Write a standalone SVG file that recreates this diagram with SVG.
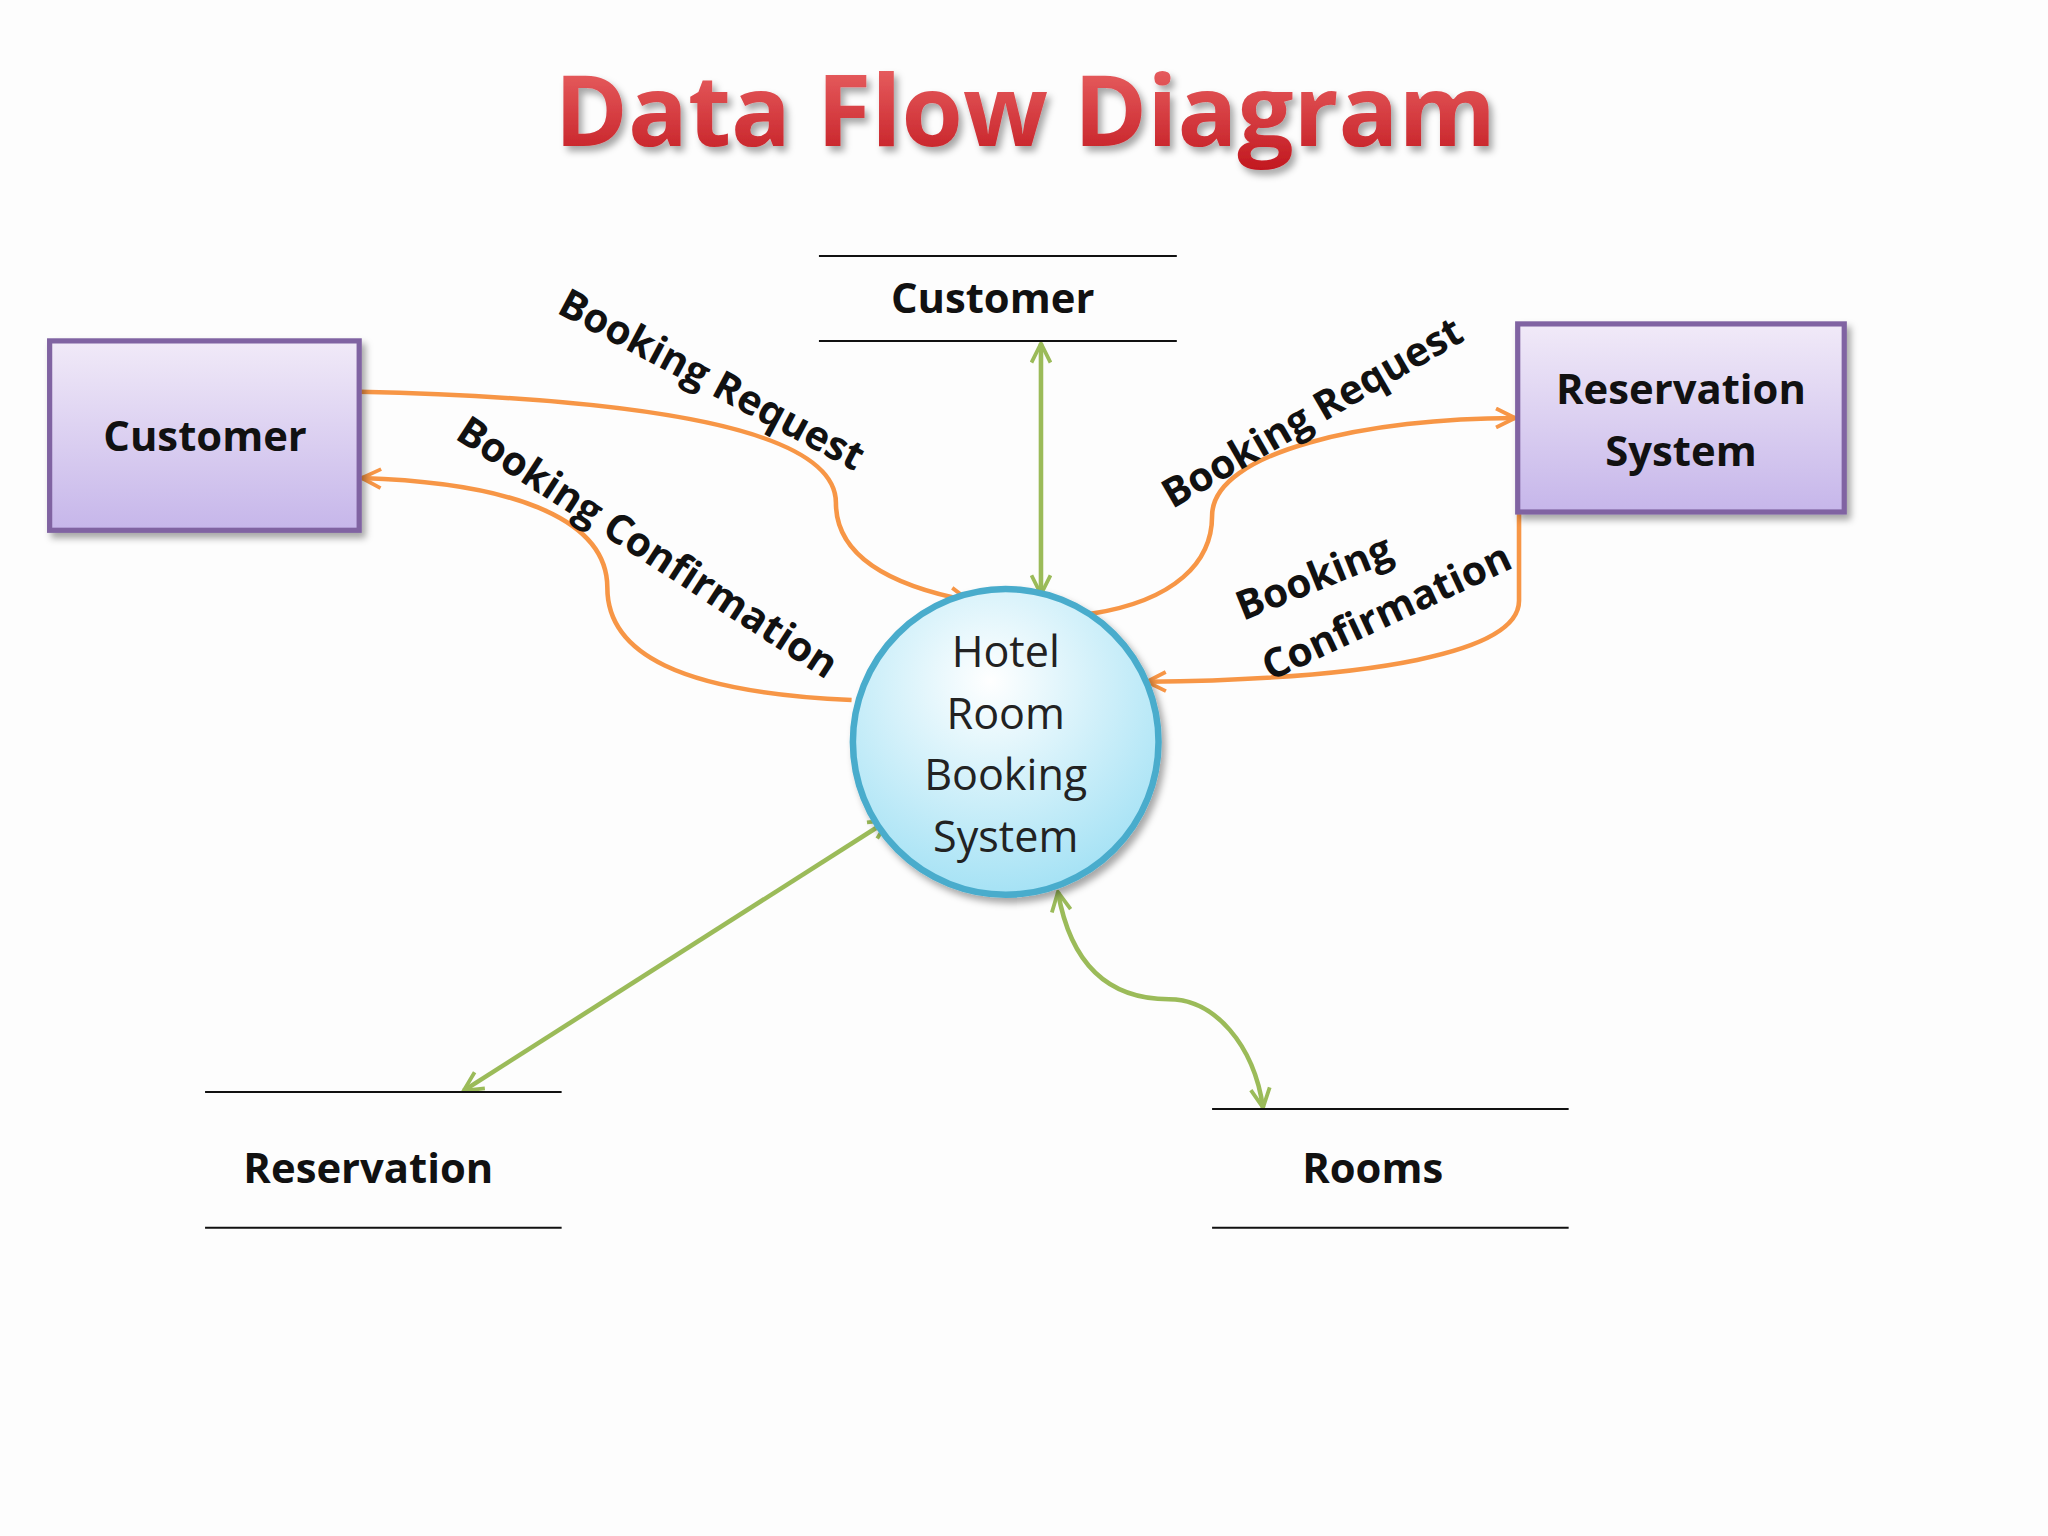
<svg xmlns="http://www.w3.org/2000/svg" width="2048" height="1536" viewBox="0 0 2048 1536">
<style>
.o{fill:none;stroke:#f79646;stroke-width:3.5}
.g{fill:none;stroke:#9bbb59;stroke-width:3.5}
.lbl{font-family:"Open Sans","Liberation Sans",sans-serif;font-weight:bold;font-size:31px;fill:#111;text-anchor:middle}
.nd{font-family:"Open Sans","Liberation Sans",sans-serif;font-weight:bold;font-size:32px;fill:#111;text-anchor:middle}
.ct{font-family:"Open Sans","Liberation Sans",sans-serif;font-size:33px;fill:#222;text-anchor:middle}
.ln{stroke:#111;stroke-width:1.5}
.box{fill:url(#bg);stroke:#8064a2;stroke-width:4;filter:url(#sh)}
</style>
<defs>
<linearGradient id="bg" x1="0" y1="0" x2="0" y2="1"><stop offset="0" stop-color="#f1eaf8"/><stop offset="1" stop-color="#c6b6ea"/></linearGradient>
<radialGradient id="cg" cx="0.45" cy="0.3" r="0.75"><stop offset="0" stop-color="#ffffff"/><stop offset="1" stop-color="#9fe0f4"/></radialGradient>
<linearGradient id="tg" x1="0" y1="0" x2="0" y2="1"><stop offset="0" stop-color="#f07070"/><stop offset="1" stop-color="#c0141c"/></linearGradient>
<filter id="sh" x="-20%" y="-20%" width="140%" height="140%"><feDropShadow dx="3" dy="4" stdDeviation="3" flood-opacity="0.35"/></filter>
<marker id="ao" viewBox="0 0 12 12" refX="11" refY="6" markerWidth="5" markerHeight="5" orient="auto-start-reverse" markerUnits="strokeWidth"><path d="M1,1 L11,6 L1,11" fill="none" stroke="#f79646" stroke-width="2"/></marker>
<marker id="ag" viewBox="0 0 12 12" refX="11" refY="6" markerWidth="5" markerHeight="5" orient="auto-start-reverse" markerUnits="strokeWidth"><path d="M1,1 L11,6 L1,11" fill="none" stroke="#9bbb59" stroke-width="2"/></marker>
</defs>
<rect width="2048" height="1536" fill="#fdfdfd"/>
<g transform="scale(1.30612)">
<text x="785" y="112" font-family="'Open Sans','Liberation Sans',sans-serif" font-weight="bold" font-size="76" fill="url(#tg)" text-anchor="middle" filter="url(#sh)">Data Flow Diagram</text>

<g id="connectors">
<path class="o" marker-end="url(#ao)" d="M275,300 C500,305 640,330 640,385 C640,430 690,450 742,460"/>
<path class="o" marker-end="url(#ao)" d="M652,536 C520,530 465,500 465,450 C465,400 400,370 277,366"/>
<path class="o" marker-end="url(#ao)" d="M835,470 C900,460 928,430 928,395 C928,345 1050,320 1160,320"/>
<path class="o" marker-end="url(#ao)" d="M1163,392 L1163,460 C1163,500 1050,520 878,522"/>
<path class="g" marker-start="url(#ag)" marker-end="url(#ag)" d="M797,263 L797,455"/>
<path class="g" marker-start="url(#ag)" marker-end="url(#ag)" d="M680,628 L355,835"/>
<path class="g" marker-start="url(#ag)" marker-end="url(#ag)" d="M810,683 C820,740 850,765 895,765 C930,765 960,800 967,848"/>
<text class="lbl" transform="translate(540,300) rotate(28)">Booking Request</text>
<text class="lbl" transform="translate(490,428) rotate(33)">Booking Confirmation</text>
<text class="lbl" transform="translate(1010,325) rotate(-30)">Booking Request</text>
<text class="lbl" transform="translate(1010,452) rotate(-22)">Booking</text>
<text class="lbl" transform="translate(1066,478) rotate(-25)">Confirmation</text>
</g>

<g id="customer"><rect class="box" x="38" y="261" width="237" height="145"/><text class="nd" x="157" y="345">Customer</text></g>
<g id="reservation-system"><rect class="box" x="1162" y="248" width="250" height="144"/><text class="nd" x="1287" y="309">Reservation</text><text class="nd" x="1287" y="357">System</text></g>
<g id="process"><circle cx="770" cy="568" r="117" fill="url(#cg)" stroke="#4aaccc" stroke-width="5" filter="url(#sh)"/>
<text class="ct" x="770" y="511">Hotel</text><text class="ct" x="770" y="558">Room</text><text class="ct" x="770" y="605">Booking</text><text class="ct" x="770" y="652">System</text></g>
<g id="store-customer"><line class="ln" x1="627" y1="196" x2="901" y2="196"/><line class="ln" x1="627" y1="261" x2="901" y2="261"/><text class="nd" x="760" y="240">Customer</text></g>
<g id="store-reservation"><line class="ln" x1="157" y1="836" x2="430" y2="836"/><line class="ln" x1="157" y1="940" x2="430" y2="940"/><text class="nd" x="282" y="906">Reservation</text></g>
<g id="store-rooms"><line class="ln" x1="928" y1="849" x2="1201" y2="849"/><line class="ln" x1="928" y1="940" x2="1201" y2="940"/><text class="nd" x="1051" y="906">Rooms</text></g>
</g>
</svg>
